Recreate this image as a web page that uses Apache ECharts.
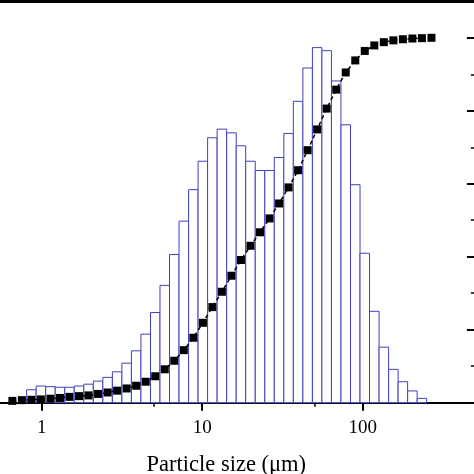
<!DOCTYPE html>
<html>
<head>
<meta charset="utf-8">
<script src="https://cdn.jsdelivr.net/npm/echarts@6/dist/echarts.min.js"></script>
<style>
  html, body { margin: 0; padding: 0; background: #fff; }
  #main { width: 474px; height: 474px; }
</style>
</head>
<body>
<div id="main"></div>
<script>
// bin edges (um), log spaced
var binEdges = [0.806, 0.924, 1.059, 1.214, 1.392, 1.596, 1.830, 2.098, 2.405, 2.757,
    3.161, 3.623, 4.154, 4.762, 5.459, 6.258, 7.174, 8.225, 9.429, 10.81,
    12.39, 14.21, 16.29, 18.67, 21.41, 24.54, 28.13, 32.25, 36.97, 42.39,
    48.59, 55.71, 63.86, 73.21, 83.93, 96.22, 110.3, 126.5, 145.0, 166.2,
    190.5, 218.4, 250.4];
// volume % in each bin
var volume = [0.21, 0.27, 0.26, 0.25, 0.25, 0.27, 0.30, 0.35, 0.41, 0.50,
    0.64, 0.84, 1.11, 1.46, 1.90, 2.40, 2.94, 3.45, 3.91, 4.29,
    4.43, 4.37, 4.16, 3.91, 3.76, 3.76, 3.97, 4.36, 4.88, 5.42,
    5.75, 5.70, 5.21, 4.50, 3.53, 2.42, 1.48, 0.90, 0.54, 0.34,
    0.19, 0.07];
// cumulative curve: sizes (bin centres) and values (%)
var cumSize = [0.657, 0.753, 0.863, 0.989, 1.134, 1.300, 1.490, 1.709, 1.959, 2.246,
    2.575, 2.952, 3.384, 3.879, 4.448, 5.099, 5.845, 6.701, 7.681, 8.807,
    10.10, 11.57, 13.27, 15.21, 17.44, 19.99, 22.92, 26.28, 30.12, 34.53,
    39.58, 45.38, 52.03, 59.65, 68.38, 78.39, 89.87, 103.0, 118.1, 135.4,
    155.3, 178.0, 204.0, 233.9, 268.1];
var cumValue = [0.5, 0.7, 0.8, 0.9, 1.1, 1.3, 1.6, 1.8, 2.0, 2.4,
    2.8, 3.3, 3.9, 4.65, 5.75, 7.25, 9.15, 11.5, 14.4, 17.8,
    21.9, 26.2, 30.4, 34.8, 39.1, 43.0, 46.7, 50.5, 54.6, 59.0,
    63.7, 69.2, 74.9, 80.6, 85.8, 90.5, 93.8, 96.4, 97.9, 98.8,
    99.3, 99.6, 99.8, 99.9, 100];
var xMajor = [1, 10, 100];
var xMinor = [5, 50];
var yMajor = [0, 20, 40, 60, 80, 100];
var yMinor = [10, 30, 50, 70, 90];

var serif = '"Liberation Serif", "DejaVu Serif", serif';

var barData = [];
for (var i = 0; i < volume.length; i++) {
    barData.push([binEdges[i], binEdges[i + 1], volume[i]]);
}
var cumData = [];
for (var j = 0; j < cumSize.length; j++) {
    cumData.push([cumSize[j], cumValue[j]]);
}

var dom = document.getElementById('main');
var myChart = echarts.init(dom, null, { renderer: 'canvas' });

option = {
    animation: false,
    backgroundColor: '#fff',
    grid: {
        left: -22.2, right: -0.9, top: 1.3, bottom: 71.3,
        containLabel: false,
        outerBoundsMode: 'none'
    },
    xAxis: [
        {
            type: 'log', logBase: 10, min: 0.4, max: 500, position: 'bottom',
            name: 'Particle size (\u03bcm)',
            nameLocation: 'middle',
            nameGap: 51,
            nameTextStyle: { fontFamily: serif, fontSize: 22.5, color: '#000' },
            axisLine: { show: true, onZero: false, lineStyle: { color: '#000', width: 2 } },
            axisTick: { show: true, customValues: xMajor, length: 8, inside: false, lineStyle: { color: '#000', width: 2 } },
            axisLabel: { show: true, customValues: xMajor, margin: 16, fontFamily: serif, fontSize: 19, color: '#000' },
            minorTick: { show: false },
            splitLine: { show: false }
        },
        {
            // minor ticks at 5 and 50
            type: 'log', logBase: 10, min: 0.4, max: 500, position: 'bottom',
            axisLine: { show: false, onZero: false },
            axisTick: { show: true, customValues: xMinor, length: 4, lineStyle: { color: '#000', width: 1.5 } },
            axisLabel: { show: false },
            splitLine: { show: false }
        },
        {
            // top frame
            type: 'log', logBase: 10, min: 0.4, max: 500, position: 'top',
            axisLine: { show: true, onZero: false, lineStyle: { color: '#000', width: 3 } },
            axisTick: { show: false },
            axisLabel: { show: false },
            splitLine: { show: false }
        }
    ],
    yAxis: [
        { type: 'value', min: 0, max: 6.5, show: false, splitLine: { show: false } },
        {
            type: 'value', min: 0, max: 110, position: 'right',
            axisLine: { show: true, onZero: false, lineStyle: { color: '#000', width: 2 } },
            axisTick: { show: true, inside: true, customValues: yMajor, length: 8, lineStyle: { color: '#000', width: 2 } },
            axisLabel: { show: false },
            splitLine: { show: false }
        },
        {
            type: 'value', min: 0, max: 110, position: 'right',
            axisLine: { show: false, onZero: false },
            axisTick: { show: true, inside: true, customValues: yMinor, length: 4, lineStyle: { color: '#000', width: 1.5 } },
            axisLabel: { show: false },
            splitLine: { show: false }
        }
    ],
    series: [
        {
            name: 'volume',
            type: 'custom',
            xAxisIndex: 0,
            yAxisIndex: 0,
            encode: { x: [0, 1], y: 2 },
            data: barData,
            renderItem: function (params, api) {
                var p0 = api.coord([api.value(0), 0]);
                var p1 = api.coord([api.value(1), api.value(2)]);
                return {
                    type: 'rect',
                    shape: { x: p0[0], y: p1[1], width: p1[0] - p0[0], height: p0[1] - p1[1] },
                    style: { fill: '#fff', stroke: '#4040bf', lineWidth: 1 }
                };
            }
        },
        {
            name: 'cumulative',
            type: 'line',
            xAxisIndex: 0,
            yAxisIndex: 1,
            data: cumData,
            symbol: 'rect',
            symbolSize: 8,
            showSymbol: true,
            itemStyle: { color: '#000' },
            lineStyle: { color: '#000', width: 1.5, type: [4, 3] },
            z: 5
        }
    ]
};
myChart.setOption(option);
</script>
</body>
</html>
